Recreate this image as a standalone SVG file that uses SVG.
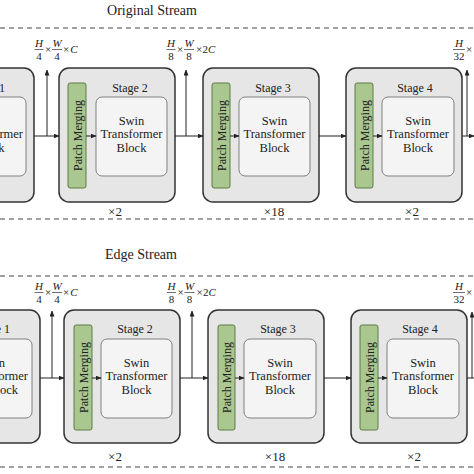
<svg xmlns="http://www.w3.org/2000/svg" width="474" height="474" viewBox="0 0 474 474">
<defs>
<marker id="ah" markerWidth="6" markerHeight="5" refX="5.5" refY="2.5" orient="auto" markerUnits="userSpaceOnUse">
<path d="M0,0 L6,2.5 L0,5 Z" fill="#222"/>
</marker>
<style>
.t{font-family:"Liberation Serif","Times New Roman",serif;fill:#222;}
.title{font-size:14px;text-anchor:middle;}
.stg{font-size:12px;text-anchor:middle;}
.sw{font-size:12.5px;text-anchor:middle;}
.pm{font-size:12px;text-anchor:middle;}
.rep{font-size:13px;text-anchor:middle;}
.m{font-size:11px;text-anchor:middle;}
.i{font-style:italic;}
.outer{fill:#e6e6e6;stroke:#333;stroke-width:1.5;}
.inner{fill:#f4f4f4;stroke:#808080;stroke-width:1;}
.green{fill:#a9c78f;stroke:#5d7d45;stroke-width:1;}
.dash{stroke:#444;stroke-width:1.2;stroke-dasharray:5 4;fill:none;}
.ln{stroke:#222;stroke-width:1;fill:none;}
.bar{stroke:#333;stroke-width:0.7;}
</style>
</defs>
<rect width="474" height="474" fill="#fff"/>

<!-- Titles and dashed frames -->
<text class="t title" x="152" y="15">Original Stream</text>
<text class="t title" x="141" y="259">Edge Stream</text>
<line class="dash" x1="0" y1="28" x2="474" y2="28"/>
<line class="dash" x1="0" y1="219" x2="474" y2="219"/>
<line class="dash" x1="0" y1="276" x2="474" y2="276"/>
<line class="dash" x1="0" y1="467" x2="474" y2="467"/>

<!-- ===== Top stream nodes ===== -->
<g id="top-stage1">
<rect class="outer" x="-82" y="68" width="116" height="134" rx="10"/>
<rect class="inner" x="-45" y="97" width="71" height="79" rx="6"/>
<text class="t stg" style="text-anchor:end" x="5" y="92">Stage 1</text>
<text class="t sw" style="text-anchor:end" x="-2" y="124.5">Swin</text>
<text class="t sw" style="text-anchor:end" x="23" y="138">Transformer</text>
<text class="t sw" style="text-anchor:end" x="4.5" y="151.5">Block</text>
</g>
<g id="top-stage2">
<rect class="outer" x="59" y="68" width="116" height="134" rx="10"/>
<rect class="green" x="68" y="83" width="18" height="105" rx="2"/>
<text class="t pm" transform="translate(81.5,135.5) rotate(-90)">Patch Merging</text>
<rect class="inner" x="96" y="97" width="71" height="79" rx="6"/>
<text class="t stg" x="130" y="92">Stage 2</text>
<text class="t sw" x="131.5" y="124.5">Swin</text>
<text class="t sw" x="131.5" y="138">Transformer</text>
<text class="t sw" x="131.5" y="151.5">Block</text>
</g>
<g id="top-stage3">
<rect class="outer" x="203" y="68" width="116" height="134" rx="10"/>
<rect class="green" x="212" y="83" width="18" height="105" rx="2"/>
<text class="t pm" transform="translate(225.5,135.5) rotate(-90)">Patch Merging</text>
<rect class="inner" x="239" y="97" width="71" height="79" rx="6"/>
<text class="t stg" x="273" y="92">Stage 3</text>
<text class="t sw" x="274.5" y="124.5">Swin</text>
<text class="t sw" x="274.5" y="138">Transformer</text>
<text class="t sw" x="274.5" y="151.5">Block</text>
</g>
<g id="top-stage4">
<rect class="outer" x="346" y="68" width="116" height="134" rx="10"/>
<rect class="green" x="355" y="83" width="18" height="105" rx="2"/>
<text class="t pm" transform="translate(368.5,135.5) rotate(-90)">Patch Merging</text>
<rect class="inner" x="382" y="97" width="72" height="79" rx="6"/>
<text class="t stg" x="415" y="92">Stage 4</text>
<text class="t sw" x="418" y="124.5">Swin</text>
<text class="t sw" x="418" y="138">Transformer</text>
<text class="t sw" x="418" y="151.5">Block</text>
</g>
<text class="t rep" x="115" y="216">×2</text>
<text class="t rep" x="274" y="216">×18</text>
<text class="t rep" x="412" y="216">×2</text>

<!-- ===== Bottom stream nodes ===== -->
<g id="bot-stage1">
<rect class="outer" x="-76" y="310" width="116" height="133" rx="10"/>
<rect class="inner" x="-39" y="339" width="71" height="79" rx="6"/>
<text class="t stg" style="text-anchor:end" x="10" y="333">Stage 1</text>
<text class="t sw" style="text-anchor:end" x="5" y="366.5">Swin</text>
<text class="t sw" style="text-anchor:end" x="28" y="380">Transformer</text>
<text class="t sw" style="text-anchor:end" x="18" y="393.5">Block</text>
</g>
<g id="bot-stage2">
<rect class="outer" x="64" y="310" width="116" height="133" rx="10"/>
<rect class="green" x="74" y="325" width="18" height="105" rx="2"/>
<text class="t pm" transform="translate(87.5,377.5) rotate(-90)">Patch Merging</text>
<rect class="inner" x="101" y="339" width="71" height="79" rx="6"/>
<text class="t stg" x="135" y="333">Stage 2</text>
<text class="t sw" x="136.5" y="366.5">Swin</text>
<text class="t sw" x="136.5" y="380">Transformer</text>
<text class="t sw" x="136.5" y="393.5">Block</text>
</g>
<g id="bot-stage3">
<rect class="outer" x="208" y="310" width="116" height="133" rx="10"/>
<rect class="green" x="218" y="325" width="17" height="105" rx="2"/>
<text class="t pm" transform="translate(231,377.5) rotate(-90)">Patch Merging</text>
<rect class="inner" x="244" y="339" width="72" height="79" rx="6"/>
<text class="t stg" x="278" y="333">Stage 3</text>
<text class="t sw" x="280" y="366.5">Swin</text>
<text class="t sw" x="280" y="380">Transformer</text>
<text class="t sw" x="280" y="393.5">Block</text>
</g>
<g id="bot-stage4">
<rect class="outer" x="351" y="310" width="116" height="133" rx="10"/>
<rect class="green" x="360" y="325" width="18" height="105" rx="2"/>
<text class="t pm" transform="translate(373.5,377.5) rotate(-90)">Patch Merging</text>
<rect class="inner" x="387" y="339" width="72" height="79" rx="6"/>
<text class="t stg" x="420" y="333">Stage 4</text>
<text class="t sw" x="423" y="366.5">Swin</text>
<text class="t sw" x="423" y="380">Transformer</text>
<text class="t sw" x="423" y="393.5">Block</text>
</g>
<text class="t rep" x="115" y="461">×2</text>
<text class="t rep" x="275" y="461">×18</text>
<text class="t rep" x="414" y="461">×2</text>

<!-- ===== Shape labels ===== -->
<g id="lbl-top-1" class="t m">
<text class="i" x="39" y="46.5">H</text><line class="bar" x1="34.5" y1="49.5" x2="43.5" y2="49.5"/><text x="39" y="59.5">4</text>
<text x="48" y="53">×</text>
<text class="i" x="57" y="46.5">W</text><line class="bar" x1="52" y1="49.5" x2="62" y2="49.5"/><text x="57" y="59.5">4</text>
<text x="66" y="53">×</text>
<text class="i" x="74" y="53">C</text>
</g>
<g id="lbl-top-2" class="t m">
<text class="i" x="171" y="46.5">H</text><line class="bar" x1="166.5" y1="49.5" x2="175.5" y2="49.5"/><text x="171" y="59.5">8</text>
<text x="180" y="53">×</text>
<text class="i" x="189" y="46.5">W</text><line class="bar" x1="184" y1="49.5" x2="194" y2="49.5"/><text x="189" y="59.5">8</text>
<text x="199" y="53">×</text>
<text x="209" y="53">2<tspan class="i">C</tspan></text>
</g>
<g id="lbl-top-3" class="t m">
<text class="i" x="459" y="46.5">H</text><line class="bar" x1="453" y1="49.5" x2="465" y2="49.5"/><text x="459" y="59.5">32</text>
<text x="469" y="53">×</text>
</g>
<g id="lbl-bot-1" class="t m">
<text class="i" x="39" y="289.5">H</text><line class="bar" x1="34.5" y1="292.5" x2="43.5" y2="292.5"/><text x="39" y="302.5">4</text>
<text x="48" y="296">×</text>
<text class="i" x="57" y="289.5">W</text><line class="bar" x1="52" y1="292.5" x2="62" y2="292.5"/><text x="57" y="302.5">4</text>
<text x="66" y="296">×</text>
<text class="i" x="74" y="296">C</text>
</g>
<g id="lbl-bot-2" class="t m">
<text class="i" x="171.5" y="289.5">H</text><line class="bar" x1="167" y1="292.5" x2="176" y2="292.5"/><text x="171.5" y="302.5">8</text>
<text x="180.5" y="296">×</text>
<text class="i" x="189.5" y="289.5">W</text><line class="bar" x1="184.5" y1="292.5" x2="194.5" y2="292.5"/><text x="189.5" y="302.5">8</text>
<text x="199.5" y="296">×</text>
<text x="209.5" y="296">2<tspan class="i">C</tspan></text>
</g>
<g id="lbl-bot-3" class="t m">
<text class="i" x="459" y="289.5">H</text><line class="bar" x1="453" y1="292.5" x2="465" y2="292.5"/><text x="459" y="302.5">32</text>
<text x="469" y="296">×</text>
</g>

<!-- ===== Connectors ===== -->
<g id="connectors">
<line class="ln" x1="34" y1="136" x2="59" y2="136" marker-end="url(#ah)"/>
<line class="ln" x1="47" y1="136" x2="47" y2="70" marker-end="url(#ah)"/>
<line class="ln" x1="86" y1="136" x2="96" y2="136" marker-end="url(#ah)"/>
<line class="ln" x1="175" y1="136" x2="203" y2="136" marker-end="url(#ah)"/>
<line class="ln" x1="186" y1="136" x2="186" y2="70" marker-end="url(#ah)"/>
<line class="ln" x1="230" y1="136" x2="239" y2="136" marker-end="url(#ah)"/>
<line class="ln" x1="319" y1="136" x2="346" y2="136" marker-end="url(#ah)"/>
<line class="ln" x1="373" y1="136" x2="382" y2="136" marker-end="url(#ah)"/>
<line class="ln" x1="462" y1="136" x2="474" y2="136" marker-end="url(#ah)"/>
<line class="ln" x1="467" y1="136" x2="467" y2="70" marker-end="url(#ah)"/>

<line class="ln" x1="40" y1="378" x2="64" y2="378" marker-end="url(#ah)"/>
<line class="ln" x1="52" y1="378" x2="52" y2="311" marker-end="url(#ah)"/>
<line class="ln" x1="92" y1="378" x2="101" y2="378" marker-end="url(#ah)"/>
<line class="ln" x1="180" y1="378" x2="208" y2="378" marker-end="url(#ah)"/>
<line class="ln" x1="192" y1="378" x2="192" y2="311" marker-end="url(#ah)"/>
<line class="ln" x1="235" y1="378" x2="244" y2="378" marker-end="url(#ah)"/>
<line class="ln" x1="324" y1="378" x2="351" y2="378" marker-end="url(#ah)"/>
<line class="ln" x1="378" y1="378" x2="387" y2="378" marker-end="url(#ah)"/>
<line class="ln" x1="467" y1="378" x2="474" y2="378"/>
<line class="ln" x1="472" y1="378" x2="472" y2="312" marker-end="url(#ah)"/>
</g>
</svg>
